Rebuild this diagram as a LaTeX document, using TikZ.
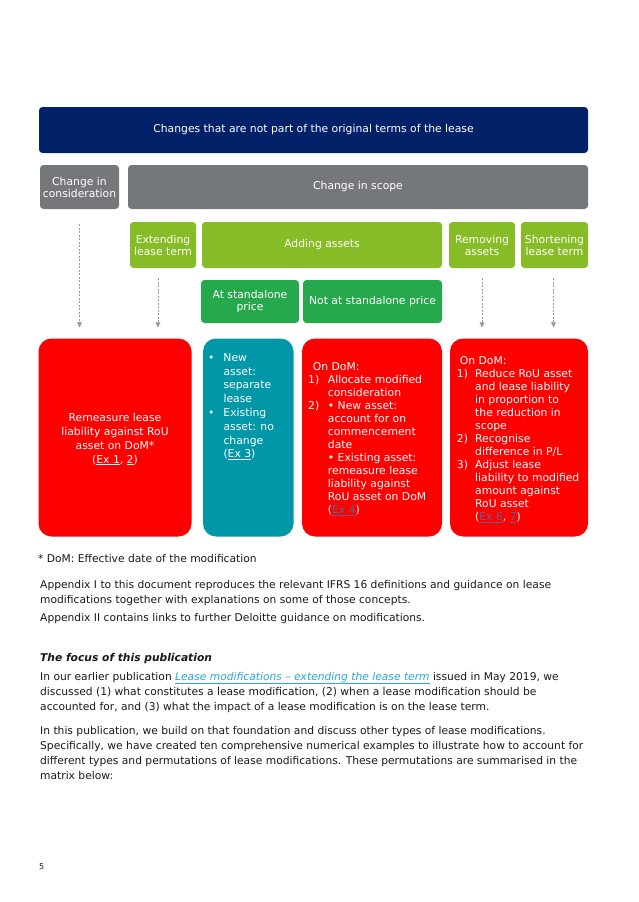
\documentclass[tikz,border=0pt]{standalone}
\usepackage{fontspec}
\setmainfont{DejaVu Sans}
\usetikzlibrary{arrows.meta}
\definecolor{navy}{RGB}{1,33,105}
\definecolor{dgray}{RGB}{117,120,123}
\definecolor{lgreen}{RGB}{134,188,37}
\definecolor{dgreen}{RGB}{38,168,76}
\definecolor{dtteal}{RGB}{0,151,169}
\definecolor{bred}{RGB}{255,0,0}
\definecolor{linkblue}{RGB}{40,168,222}
\definecolor{exlink}{RGB}{90,100,150}
\definecolor{bodytext}{RGB}{25,25,25}
\newcommand\bxfont{\fontsize{10.8}{12}\selectfont}
\newcommand\bdfont{\fontsize{10.7}{15}\selectfont}
\newcommand\ulk[1]{\underline{#1}}
\tikzset{
  sbox/.style={rounded corners=3.5pt, inner sep=0pt, text=white, align=center, font=\bxfont},
  hdrbox/.style={sbox, fill=navy},
  grybox/.style={sbox, fill=dgray},
  lgbox/.style={sbox, fill=lgreen},
  dgbox/.style={sbox, fill=dgreen},
  bigbox/.style={rounded corners=13pt, inner sep=0pt, minimum height=198pt},
  redbox/.style={bigbox, fill=bred},
  tlbox/.style={bigbox, fill=dtteal},
  intext/.style={inner sep=0pt, text=white, anchor=base west},
  bodyline/.style={inner sep=0pt, anchor=base west, text=bodytext, font=\bdfont},
  dasharrow/.style={draw=black!40, line width=0.7pt, dash pattern=on 2pt off 1.5pt, -{Triangle[length=5pt,width=5pt]}}
}
\begin{document}
\begin{tikzpicture}[x=1pt,y=-1pt]
\useasboundingbox (0,0) rectangle (638,902);
\fill[white] (0,0) rectangle (638,902);

% header rows
\node[hdrbox, minimum width=549pt, minimum height=46pt] (top) at (313.5,130) {Changes that are not part of the original terms of the lease};
\node[grybox, minimum width=79pt, minimum height=44pt] (cons) at (79.5,187) {Change in\\consideration};
\node[grybox, minimum width=460pt, minimum height=44pt] (scope) at (358,187) {Change in scope};

\node[lgbox, minimum width=66pt, minimum height=46pt] (ext) at (163,245) {Extending\\lease term};
\node[lgbox, minimum width=240pt, minimum height=46pt] (add) at (322,245) {Adding assets};
\node[lgbox, minimum width=66pt, minimum height=46pt] (rem) at (482,245) {Removing\\assets};
\node[lgbox, minimum width=67pt, minimum height=46pt] (shrt) at (554.5,245) {Shortening\\lease term};

\node[dgbox, minimum width=98pt, minimum height=43pt] (atsp) at (250,301.5) {At standalone\\price};
\node[dgbox, minimum width=139pt, minimum height=43pt] (notsp) at (372.5,301.5) {Not at standalone price};

% bottom boxes
\node[redbox, minimum width=153pt] (r1) at (115,437.5) {};
\node[tlbox, minimum width=90.5pt] (tl) at (248.25,437.5) {};
\node[redbox, minimum width=140pt] (r2) at (372,437.5) {};
\node[redbox, minimum width=138pt] (r3) at (519,437.5) {};

% arrows
\draw[dasharrow, shorten <=15pt, shorten >=11pt] (cons.south) -- (cons.south |- r1.north);
\draw[dasharrow, shorten <=10pt, shorten >=11pt] ([xshift=-5pt]ext.south) -- ([xshift=-5pt]ext.south |- r1.north);
\draw[dasharrow, shorten <=10pt, shorten >=11pt] (rem.south) -- (rem.south |- r3.north);
\draw[dasharrow, shorten <=10pt, shorten >=11pt] ([xshift=-1pt]shrt.south) -- ([xshift=-1pt]shrt.south |- r3.north);

% texts in bottom boxes
\node[intext, anchor=base] (r1t) at (115,421.7) {\fontsize{10.8}{13.8}\selectfont
\begin{tabular}[t]{@{}c@{}}
Remeasure lease\\
liability against RoU\\
asset on DoM*\\
(\ulk{Ex 1}, \ulk{2})
\end{tabular}};

\node[intext] (tlt) at (208,361.3) {\fontsize{10.8}{13.8}\selectfont
\begin{tabular}[t]{@{}p{15.3pt}@{}l@{}}
•&New\\
&asset:\\
&separate\\
&lease\\
•&Existing\\
&asset: no\\
&change\\
&(\ulk{Ex 3})
\end{tabular}};

\node[intext] (r2t) at (308,370.7) {\fontsize{10.8}{13}\selectfont
\begin{tabular}[t]{@{}p{19.7pt}@{}l@{}}
\multicolumn{2}{@{}l@{}}{\hspace{4.7pt}On DoM:}\\
1)&Allocate modified\\
&consideration\\
2)&• New asset:\\
&account for on\\
&commencement\\
&date\\
&• Existing asset:\\
&remeasure lease\\
&liability against\\
&RoU asset on DoM\\
&(\textcolor{exlink}{\ulk{Ex 4}})
\end{tabular}};

\node[intext] (r3t) at (456.7,364.7) {\fontsize{10.8}{13}\selectfont
\begin{tabular}[t]{@{}p{18.3pt}@{}l@{}}
\multicolumn{2}{@{}l@{}}{\hspace{3pt}On DoM:}\\
1)&Reduce RoU asset\\
&and lease liability\\
&in proportion to\\
&the reduction in\\
&scope\\
2)&Recognise\\
&difference in P/L\\
3)&Adjust lease\\
&liability to modified\\
&amount against\\
&RoU asset\\
&(\textcolor{exlink}{\ulk{Ex 6}}, \textcolor{exlink}{\ulk{7}})
\end{tabular}};

% body text
\node[bodyline] (b1) at (38,562) {* DoM: Effective date of the modification};
\node[bodyline] (b2) at (40,588) {Appendix I to this document reproduces the relevant IFRS 16 definitions and guidance on lease};
\node[bodyline] (b3) at (40,603) {modifications together with explanations on some of those concepts.};
\node[bodyline] (b4) at (40,621) {Appendix II contains links to further Deloitte guidance on modifications.};
\node[bodyline] (b5) at (40,661) {\bfseries\itshape The focus of this publication};
\node[bodyline] (b6) at (40,680) {In our earlier publication \textcolor{linkblue}{\itshape\ulk{Lease modifications – extending the lease term}} issued in May 2019, we};
\node[bodyline] (b7) at (40,695) {discussed (1) what constitutes a lease modification, (2) when a lease modification should be};
\node[bodyline] (b8) at (40,710) {accounted for, and (3) what the impact of a lease modification is on the lease term.};
\node[bodyline] (b9) at (40,734) {In this publication, we build on that foundation and discuss other types of lease modifications.};
\node[bodyline] (b10) at (40,749) {Specifically, we have created ten comprehensive numerical examples to illustrate how to account for};
\node[bodyline] (b11) at (40,764) {different types and permutations of lease modifications. These permutations are summarised in the};
\node[bodyline] (b12) at (40,779) {matrix below:};
\node[bodyline, font=\fontsize{8}{10}\selectfont] (pg) at (39,869) {5};
\end{tikzpicture}
\end{document}
